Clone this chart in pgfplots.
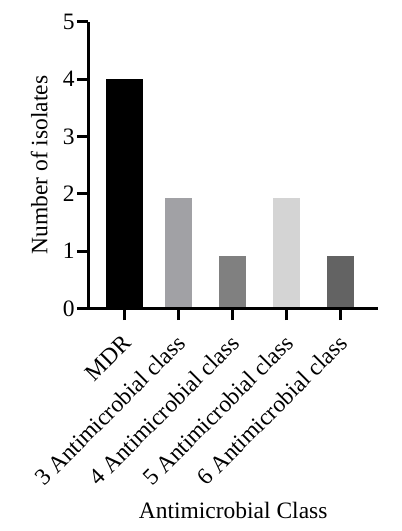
\documentclass[border=0pt]{standalone}
\usepackage{fontspec}
\setmainfont{Liberation Serif}
\usepackage{pgfplots}
\pgfplotsset{compat=1.18}
\definecolor{barA}{RGB}{0,0,0}
\definecolor{barB}{RGB}{161,161,165}
\definecolor{barC}{RGB}{128,128,128}
\definecolor{barD}{RGB}{212,212,212}
\definecolor{barE}{RGB}{99,99,99}
\begin{document}
\begin{tikzpicture}
\useasboundingbox (-88.3pt,-222.5pt) rectangle (313.7pt,308.5pt);
\begin{axis}[
  scale only axis, width=289.7pt, height=286.8pt,
  xmin=-0.667, xmax=4.70, ymin=0, ymax=5,
  axis x line*=bottom, axis y line*=left,
  axis line style={line width=3pt, black},
  axis on top,
  ytick={0,1,2,3,4,5}, xtick={0,1,2,3,4},
  xticklabels={MDR, 3 Antimicrobial class, 4 Antimicrobial class, 5 Antimicrobial class, 6 Antimicrobial class},
  tick align=outside, major tick length=11.5pt,
  tick style={line width=3pt, black},
  /pgf/number format/assume math mode=true,
  tick label style={font=\fontsize{23.5}{28}\selectfont},
  yticklabel style={inner sep=2pt},
  xticklabel style={yshift=-13pt, xshift=-3pt, rotate=45, anchor=north east, inner sep=0pt},
  xlabel={Antimicrobial Class}, ylabel={Number of isolates},
  label style={font=\fontsize{23.5}{28}\selectfont},
  xlabel style={at={(axis description cs:0.5,-0.733)}, anchor=base},
  ylabel style={at={(axis description cs:-0.169,0.5)}, anchor=center},
]
\addplot[ybar, bar width=37pt, bar shift=0pt, fill=barA, draw=none] coordinates {(0,4)};
\addplot[ybar, bar width=27pt, bar shift=0pt, fill=barB, draw=none] coordinates {(1,1.92)};
\addplot[ybar, bar width=27pt, bar shift=0pt, fill=barC, draw=none] coordinates {(2,0.92)};
\addplot[ybar, bar width=27pt, bar shift=0pt, fill=barD, draw=none] coordinates {(3,1.92)};
\addplot[ybar, bar width=27pt, bar shift=0pt, fill=barE, draw=none] coordinates {(4,0.92)};
\end{axis}
\end{tikzpicture}
\end{document}
